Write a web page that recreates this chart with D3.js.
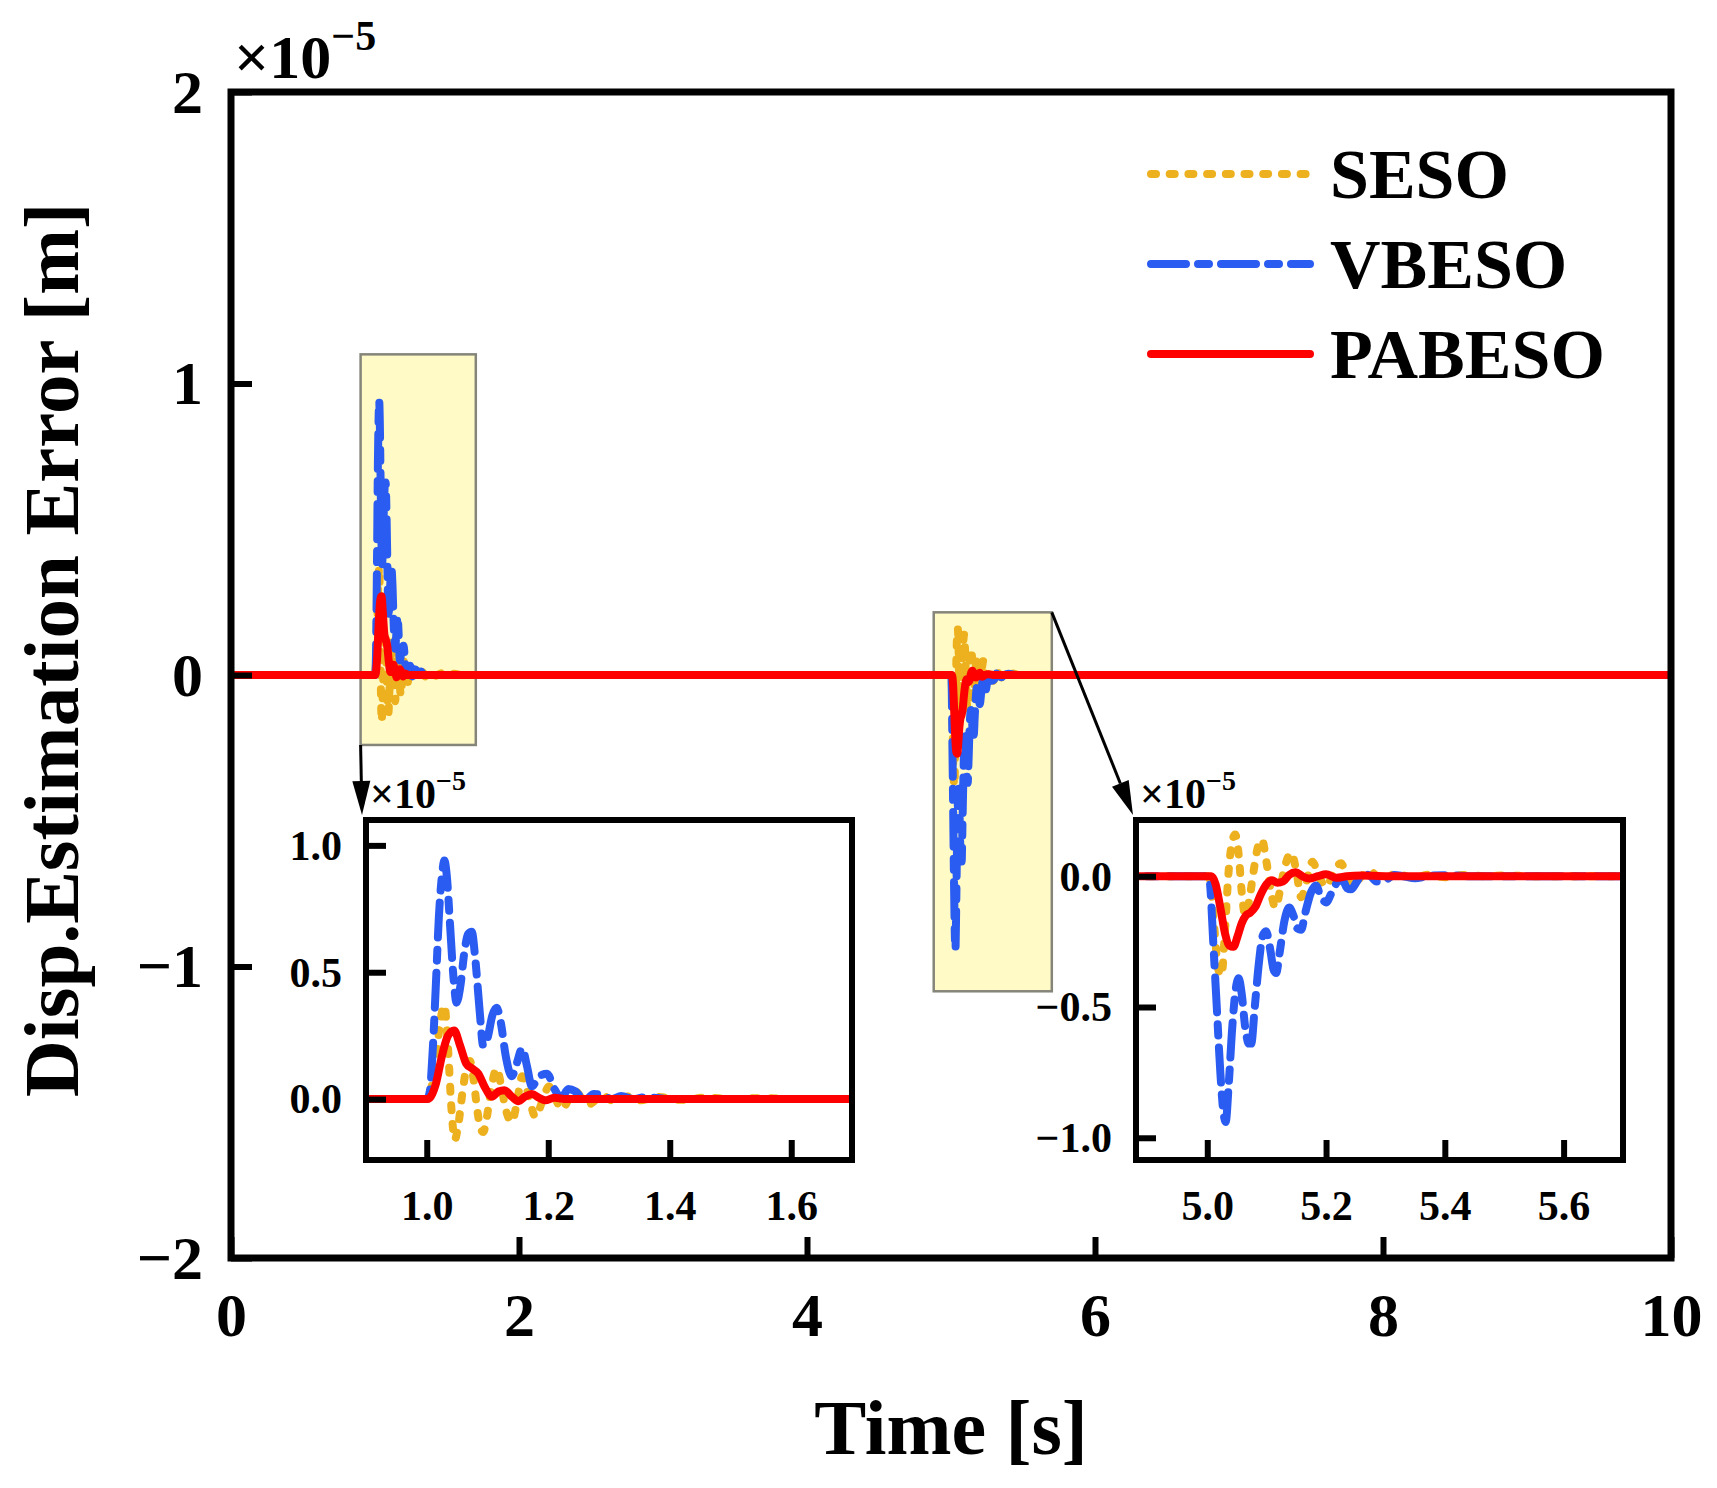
<!DOCTYPE html>
<html>
<head>
<meta charset="utf-8">
<script src="https://cdn.jsdelivr.net/npm/d3@7"></script>
<style>
body { margin: 0; background: #fff; }
text { font-family: "Liberation Serif", "Times New Roman", serif; font-weight: bold; fill: #000; }
</style>
</head>
<body>
<script>
// values are in units of 1e-5 m, time in s
const seriesNames = ["SESO", "VBESO", "PABESO"];
const seriesColors = ["#EDB120", "#2A5CF2", "#FF0000"];

const sesoData = [
  [0,0],[1.0,0],[1.008,0.05],[1.016,0.18],[1.022,0.30],[1.029,0.37],[1.035,0.20],[1.041,-0.05],
  [1.046,-0.16],[1.052,-0.10],[1.059,0.03],[1.065,0.12],[1.071,0.15],[1.077,0.08],[1.083,-0.04],
  [1.088,-0.11],[1.093,-0.13],[1.099,-0.07],[1.106,0.04],[1.115,0.12],[1.122,0.06],[1.130,-0.04],
  [1.140,-0.09],[1.148,-0.02],[1.157,0.09],[1.167,0.02],[1.179,-0.07],[1.190,-0.01],[1.201,0.05],
  [1.212,0.00],[1.223,-0.04],[1.234,0.00],[1.245,0.03],[1.256,0.00],[1.267,-0.02],[1.280,0.00],
  [1.290,0.015],[1.300,0.00],[1.310,-0.01],[1.330,0.01],[1.350,-0.005],[1.380,0.008],[1.420,-0.003],
  [1.460,0.006],[1.500,0.00],[1.550,0.004],[1.600,0.00],
  [5.0,0],[5.005,-0.02],[5.012,-0.20],[5.018,-0.35],[5.024,-0.38],[5.030,-0.20],[5.036,0.02],
  [5.041,0.12],[5.047,0.16],[5.053,0.08],[5.058,-0.06],[5.064,-0.15],[5.070,-0.10],[5.078,0.02],
  [5.085,0.11],[5.092,0.14],[5.100,0.05],[5.108,-0.07],[5.115,-0.12],[5.122,-0.06],[5.130,0.03],
  [5.141,0.09],[5.150,0.02],[5.158,-0.08],[5.167,-0.02],[5.177,0.055],[5.188,0.00],[5.200,-0.04],
  [5.212,0.01],[5.225,0.05],[5.235,0.00],[5.245,-0.035],[5.260,0.00],[5.273,0.023],[5.285,0.00],
  [5.296,-0.02],[5.308,0.00],[5.319,0.014],[5.335,0.00],[5.350,-0.008],[5.370,0.006],[5.400,-0.004],
  [5.430,0.005],[5.470,0.00],[5.500,0.003],[5.550,0.00],[10,0]
];

const vbesoData = [
  [0,0],[1.0,0],[1.005,0.03],[1.010,0.20],[1.015,0.45],[1.020,0.72],[1.025,0.88],[1.029,0.94],
  [1.033,0.88],[1.038,0.70],[1.044,0.48],[1.049,0.38],[1.055,0.44],[1.062,0.58],[1.068,0.65],
  [1.074,0.66],[1.080,0.55],[1.087,0.35],[1.093,0.21],[1.100,0.24],[1.108,0.33],[1.115,0.36],
  [1.122,0.30],[1.130,0.17],[1.140,0.09],[1.148,0.14],[1.157,0.20],[1.165,0.13],[1.173,0.05],
  [1.185,0.09],[1.198,0.10],[1.210,0.04],[1.222,0.005],[1.233,0.04],[1.245,0.03],[1.260,-0.005],
  [1.275,0.02],[1.290,0.015],[1.305,0.00],[1.320,0.012],[1.340,0.00],[1.360,0.008],[1.400,0.00],
  [5.0,0],[5.004,-0.02],[5.010,-0.25],[5.016,-0.50],[5.022,-0.75],[5.027,-0.90],[5.031,-0.94],
  [5.036,-0.80],[5.042,-0.58],[5.048,-0.43],[5.053,-0.39],[5.058,-0.45],[5.064,-0.58],[5.070,-0.64],
  [5.074,-0.64],[5.080,-0.50],[5.087,-0.33],[5.093,-0.23],[5.099,-0.21],[5.106,-0.28],[5.112,-0.36],
  [5.116,-0.37],[5.122,-0.29],[5.130,-0.17],[5.138,-0.12],[5.145,-0.15],[5.152,-0.20],[5.158,-0.205],
  [5.165,-0.14],[5.175,-0.06],[5.183,-0.035],[5.190,-0.07],[5.200,-0.10],[5.210,-0.06],[5.220,-0.02],
  [5.228,-0.015],[5.235,-0.045],[5.242,-0.05],[5.252,-0.02],[5.262,0.01],[5.275,0.00],[5.285,-0.02],
  [5.300,-0.015],[5.315,0.005],[5.330,0.00],[5.350,-0.008],[5.370,0.00],[5.400,0.004],[5.450,0.00],
  [10,0]
];

const pabesoData = [
  [0,0],[1.0,0],[1.005,0.005],[1.015,0.06],[1.025,0.17],[1.035,0.25],[1.045,0.27],[1.055,0.21],
  [1.065,0.14],[1.075,0.12],[1.085,0.10],[1.095,0.05],[1.107,0.01],[1.118,0.03],[1.128,0.035],
  [1.140,0.01],[1.151,-0.008],[1.162,0.01],[1.173,0.02],[1.185,0.005],[1.195,-0.005],[1.210,0.005],
  [1.230,0.00],
  [5.0,0],[5.007,0.00],[5.014,-0.03],[5.022,-0.12],[5.030,-0.22],[5.037,-0.265],[5.044,-0.27],
  [5.051,-0.23],[5.058,-0.18],[5.065,-0.15],[5.072,-0.14],[5.081,-0.117],[5.090,-0.07],[5.100,-0.03],
  [5.109,-0.015],[5.118,-0.025],[5.128,-0.02],[5.138,0.005],[5.149,0.015],[5.160,0.00],[5.172,-0.009],
  [5.186,0.00],[5.200,0.008],[5.217,-0.006],[5.235,0.00],[5.260,0.003],[5.300,0.00],[10,0]
];

const allSeries = [sesoData, vbesoData, pabesoData];

// axis ranges and ticks
const xDomain = [0, 10], yDomain = [-2, 2];
const xTicks = [0, 2, 4, 6, 8, 10];
const yTicks = [-2, -1, 0, 1, 2];

// zoom windows (shown as yellow boxes and as insets)
const zoom1X = [0.9, 1.7], zoom1Y = [-0.24, 1.1];
const zoom2X = [4.88, 5.7], zoom2Y = [-1.085, 0.215];
const inset1XTicks = [1.0, 1.2, 1.4, 1.6], inset1YTicks = [0, 0.5, 1.0];
const inset2XTicks = [5.0, 5.2, 5.4, 5.6], inset2YTicks = [-1.0, -0.5, 0];

// line styles
const dashes = ["5,13.7", "35,12,11,12", null];

const W = 1717, H = 1488;
const svg = d3.select("body").append("svg")
    .attr("width", W)
    .attr("height", H);

// main plot box
const main = {left: 231, right: 1671, top: 92, bottom: 1258};
const x = d3.scaleLinear().domain(xDomain).range([main.left, main.right]);
const y = d3.scaleLinear().domain(yDomain).range([main.bottom, main.top]);

const defs = svg.append("defs");
function addClip(id, b) {
  defs.append("clipPath").attr("id", id)
    .append("rect")
    .attr("x", b.left).attr("y", b.top)
    .attr("width", b.right - b.left).attr("height", b.bottom - b.top);
}
addClip("clip-main", main);

function drawSeries(g, xs, ys, clipId) {
  const line = d3.line()
    .x(d => xs(d[0]))
    .y(d => ys(d[1]))
    .curve(d3.curveMonotoneX);
  const lg = g.append("g").attr("clip-path", `url(#${clipId})`);
  allSeries.forEach((data, i) => {
    lg.append("path")
      .datum(data)
      .attr("d", line)
      .attr("fill", "none")
      .attr("stroke", seriesColors[i])
      .attr("stroke-width", 8)
      .attr("stroke-linecap", dashes[i] ? "round" : "butt")
      .attr("stroke-linejoin", "round")
      .attr("stroke-dasharray", dashes[i]);
  });
}

// yellow highlight boxes
[[zoom1X, zoom1Y], [zoom2X, zoom2Y]].forEach(([zx, zy]) => {
  svg.append("rect")
    .attr("x", x(zx[0]))
    .attr("y", y(zy[1]))
    .attr("width", x(zx[1]) - x(zx[0]))
    .attr("height", y(zy[0]) - y(zy[1]))
    .attr("fill", "#fffac6")
    .attr("stroke", "#85857a")
    .attr("stroke-width", 2.5);
});

drawSeries(svg, x, y, "clip-main");

// axes with inward ticks
function styleAxis(g, fontSize) {
  g.select(".domain").remove();
  g.selectAll(".tick line").attr("stroke", "#000").attr("stroke-width", 6);
  g.selectAll(".tick text")
    .attr("fill", "#000")
    .style("font-family", '"Liberation Serif", "Times New Roman", serif')
    .style("font-weight", "bold")
    .style("font-size", fontSize + "px");
}

const xAxisG = svg.append("g")
    .attr("transform", `translate(0,${main.bottom})`)
    .call(d3.axisBottom(x).tickValues(xTicks).tickSize(-21).tickPadding(34).tickFormat(d3.format("d")));
styleAxis(xAxisG, 62);

const yAxisG = svg.append("g")
    .attr("transform", `translate(${main.left},0)`)
    .call(d3.axisLeft(y).tickValues(yTicks).tickSize(-21).tickPadding(28).tickFormat(d3.format("d")));
styleAxis(yAxisG, 62);
yAxisG.selectAll(".tick text").attr("dy", "0.33em");

svg.append("rect")
    .attr("x", main.left).attr("y", main.top)
    .attr("width", main.right - main.left).attr("height", main.bottom - main.top)
    .attr("fill", "none").attr("stroke", "#000").attr("stroke-width", 7);

// exponent label
const expMain = svg.append("text")
    .attr("x", 234).attr("y", 78)
    .style("font-size", "62px")
    .text("×10");
expMain.append("tspan").attr("dy", -28).style("font-size", "42px").text("−5");

// axis titles
svg.append("text")
    .attr("x", (main.left + main.right) / 2)
    .attr("y", 1454)
    .attr("text-anchor", "middle")
    .style("font-size", "78px")
    .text("Time [s]");

svg.append("text")
    .attr("transform", "rotate(-90)")
    .attr("x", -650)
    .attr("y", 78)
    .attr("text-anchor", "middle")
    .style("font-size", "79px")
    .text("Disp.Estimation Error [m]");

// legend
const legend = svg.append("g");
seriesNames.forEach((name, i) => {
  const ly = 174 + i * 90;
  legend.append("line")
    .attr("x1", 1151).attr("x2", 1310)
    .attr("y1", ly).attr("y2", ly)
    .attr("stroke", seriesColors[i])
    .attr("stroke-width", 8)
    .attr("stroke-linecap", "round")
    .attr("stroke-dasharray", dashes[i]);
  legend.append("text")
    .attr("x", 1330)
    .attr("y", ly + 24)
    .style("font-size", "70px")
    .text(name);
});

// insets
const insets = [
  {box: {left: 366, right: 852, top: 820, bottom: 1160}, zx: zoom1X, zy: zoom1Y,
   xt: inset1XTicks, yt: inset1YTicks, id: "clip-in1", anchor: [x(zoom1X[0]), y(zoom1Y[0])], tip: [362, 815]},
  {box: {left: 1136, right: 1623, top: 820, bottom: 1160}, zx: zoom2X, zy: zoom2Y,
   xt: inset2XTicks, yt: inset2YTicks, id: "clip-in2", anchor: [x(zoom2X[1]), y(zoom2Y[1])], tip: [1133, 815]}
];

insets.forEach(ins => {
  const b = ins.box;
  addClip(ins.id, b);
  const g = svg.append("g");
  g.append("rect")
    .attr("x", b.left).attr("y", b.top)
    .attr("width", b.right - b.left).attr("height", b.bottom - b.top)
    .attr("fill", "#fff");
  const ix = d3.scaleLinear().domain(ins.zx).range([b.left, b.right]);
  const iy = d3.scaleLinear().domain(ins.zy).range([b.bottom, b.top]);
  drawSeries(g, ix, iy, ins.id);

  const gx = g.append("g")
      .attr("transform", `translate(0,${b.bottom})`)
      .call(d3.axisBottom(ix).tickValues(ins.xt).tickSize(-20).tickPadding(30).tickFormat(d3.format(".1f")));
  styleAxis(gx, 42);
  const gy = g.append("g")
      .attr("transform", `translate(${b.left},0)`)
      .call(d3.axisLeft(iy).tickValues(ins.yt).tickSize(-20).tickPadding(24).tickFormat(d3.format(".1f")));
  styleAxis(gy, 42);
  gy.selectAll(".tick text").attr("dy", "0.33em");

  g.append("rect")
    .attr("x", b.left).attr("y", b.top)
    .attr("width", b.right - b.left).attr("height", b.bottom - b.top)
    .attr("fill", "none").attr("stroke", "#000").attr("stroke-width", 6);

  const ex = g.append("text")
      .attr("x", b.left + 4).attr("y", b.top - 12)
      .style("font-size", "42px")
      .text("×10");
  ex.append("tspan").attr("dy", -18).style("font-size", "28px").text("−5");

  // arrow from highlight box to inset
  const [ax, ay] = ins.anchor, [tx, ty] = ins.tip;
  const ang = Math.atan2(ty - ay, tx - ax);
  const hl = 34, hw = 9;
  const bx = tx - hl * Math.cos(ang), by = ty - hl * Math.sin(ang);
  svg.append("line")
    .attr("x1", ax).attr("y1", ay).attr("x2", bx).attr("y2", by)
    .attr("stroke", "#000").attr("stroke-width", 3);
  svg.append("path")
    .attr("d", `M${tx},${ty}L${bx + hw * Math.sin(ang)},${by - hw * Math.cos(ang)}L${bx - hw * Math.sin(ang)},${by + hw * Math.cos(ang)}Z`)
    .attr("fill", "#000");
});
</script>
</body>
</html>
